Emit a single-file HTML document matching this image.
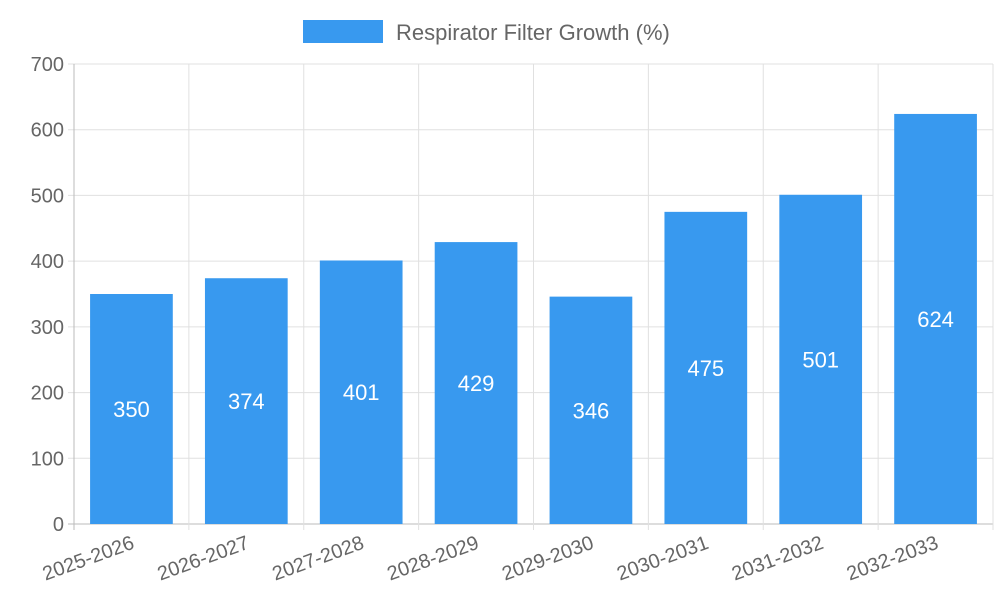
<!DOCTYPE html>
<html><head><meta charset="utf-8"><style>
body{margin:0;background:#fff;}
svg text{font-family:"Liberation Sans",sans-serif;}
</style></head><body>
<svg id="chart" width="1000" height="600">
<g id="grid"></g>
<g id="bars"></g>
<g id="axes"></g>
<g>
<rect x="303" y="20" width="80" height="23" fill="#3899ef"/>
<text x="396" y="40" font-size="22" fill="#666">Respirator Filter Growth (%)</text>
</g>
</svg>
<script>
const categories=["2025-2026","2026-2027","2027-2028","2028-2029","2029-2030","2030-2031","2031-2032","2032-2033"];
const values=[350,374,401,429,346,475,501,624];
const yTicks=[0,100,200,300,400,500,600,700];
const NS="http://www.w3.org/2000/svg";
const L=74,R=993,T=64,B=524,yMax=700;
const band=(R-L)/categories.length;
const y=v=>B-v/yMax*(B-T);
const x=i=>L+i*band;
function mk(tag,attrs,parent){const e=document.createElementNS(NS,tag);for(const k in attrs)e.setAttribute(k,attrs[k]);parent.appendChild(e);return e;}
const grid=document.getElementById('grid'),bars=document.getElementById('bars'),axes=document.getElementById('axes');
yTicks.forEach(t=>{
 const l=mk('line',{x1:L-6,x2:R,y1:y(t),y2:y(t),stroke:t===0?'#bbb':'#e0e0e0','stroke-width':1},grid);
 
 
 const tx=mk('text',{x:L-10,y:y(t)+7,'text-anchor':'end','font-size':20,fill:'#666'},axes);
 tx.textContent=t;
 
 
});
for(let i=0;i<=categories.length;i++){
 const l=mk('line',{x1:x(i),x2:x(i),y1:T,y2:B+6,stroke:i===0?'#bbb':'#e0e0e0','stroke-width':1},grid);
 
 
}
categories.forEach((c,i)=>{
 const bw=band*0.72,cx=x(i)+band/2,v=values[i];
 const r=mk('rect',{x:cx-bw/2,y:y(v),width:bw,height:B-y(v),fill:'#3899ef'},bars);
 
 
 const vt=mk('text',{x:cx,y:(y(v)+B)/2+8,'text-anchor':'middle','font-size':22,fill:'#fff'},bars);
 vt.textContent=v;
 
 
 const lt=mk('text',{x:cx+4,y:548,'text-anchor':'end','font-size':20,fill:'#666',transform:`rotate(-20 ${cx+4} 548)`},axes);
 lt.textContent=c;
 
 
});
</script>
</body></html>
